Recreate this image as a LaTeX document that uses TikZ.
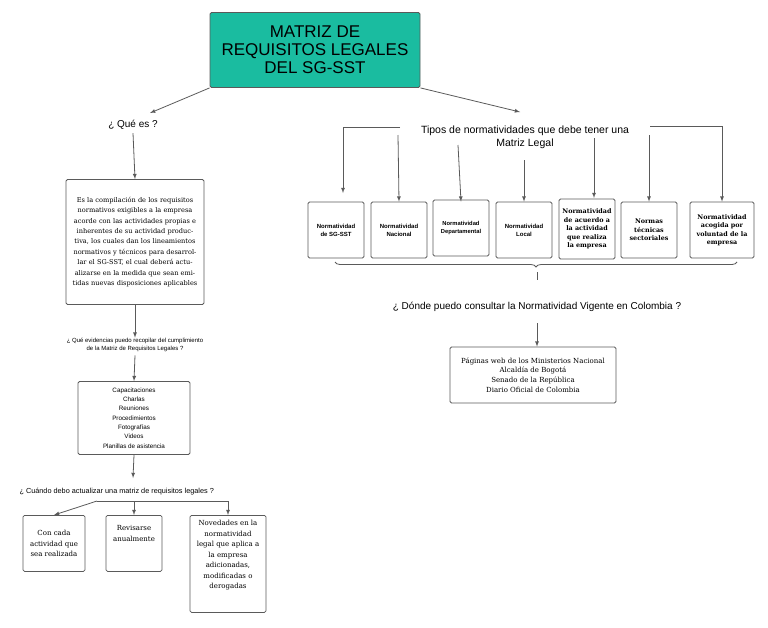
\documentclass[tikz,border=0pt]{standalone}
\usepackage{fontspec}
\setmainfont{Liberation Sans}
\newfontfamily\slab{DejaVu Serif}
\usetikzlibrary{positioning,decorations.pathreplacing}
\definecolor{titlefill}{RGB}{26,188,160}
\definecolor{edge}{RGB}{90,90,90}
\begin{document}
\begin{tikzpicture}[x=1pt,y=-1pt,
    box/.style={draw=edge, thick, rounded corners=1.5pt, align=center, inner sep=1pt},
    tipo/.style={box, minimum width=56pt, minimum height=56pt, font=\fontsize{6.5}{8}\selectfont\bfseries},
    link/.style={draw=edge, thick, -latex},
    ask/.style={align=center}]
            \useasboundingbox (0,0) rectangle (768,627);

            % title
            \node[box, fill=titlefill, minimum width=210pt, minimum height=75pt,
                font=\fontsize{17}{18}\selectfont] (title) at (315,50)
                {MATRIZ DE\\REQUISITOS LEGALES\\DEL SG-SST};

            % left column
            \node[ask, font=\fontsize{10}{12}\selectfont] (quees) at (133,125) {¿ Qué es ?};
            \node[box, text width=136pt, minimum height=125pt, font=\slab\fontsize{6.6}{10.4}\selectfont]
                (def) at (135,242) {Es la compilación de los requisitos normativos exigibles a la empresa acorde con las actividades propias e inherentes de su actividad productiva, los cuales dan los lineamientos normativos y técnicos para desarrollar el SG-SST, el cual deberá actualizarse en la medida que sean emitidas nuevas disposiciones aplicables};
            \node[ask, font=\fontsize{6}{8}\selectfont] (evid) at (135,345)
                {¿ Qué evidencias puedo recopilar del cumplimiento\\de la Matriz de Requisitos Legales ?};
            \node[box, minimum width=112pt, minimum height=73pt, font=\fontsize{6.3}{9.3}\selectfont]
                (lista) at (134,418) {Capacitaciones\\Charlas\\Reuniones\\Procedimientos\\Fotografías\\Videos\\Planillas de asistencia};
            \node[font=\fontsize{7.3}{9}\selectfont, anchor=west] (cuando) at (16,492)
                {¿ Cuándo debo actualizar una matriz de requisitos legales ?};
            \node[box, minimum width=62pt, minimum height=56pt, anchor=north, font=\slab\fontsize{7}{10.5}\selectfont]
                (cada) at (54,515) {Con cada\\actividad que\\sea realizada};
            \node[box, minimum width=56pt, minimum height=56pt, anchor=north, font=\slab\fontsize{7}{10.5}\selectfont]
                (anual) at (134,515) {\strut Revisarse\\anualmente\\[12pt]};
            \node[box, minimum width=76pt, minimum height=97pt, anchor=north, font=\slab\fontsize{7}{10.5}\selectfont]
                (noved) at (228,515) {Novedades en la\\normatividad\\legal que aplica a\\la empresa\\adicionadas,\\modificadas o\\derogadas\\[8pt]};

            \draw[link] (title.south west) -- (150,113);
            \draw[link] (quees.south) -- (def.north);
            \draw[link] (def.south) -- ([yshift=-3pt]evid.north);
            \draw[link] (evid.south) -- (lista.north);
            \draw[link] (lista.south) -- (133,478);
            \coordinate (split) at (97,501);
            \draw[draw=edge, thick] (split) -- (noved.north |- split);
            \draw[link] (split) -- (cada.north);
            \draw[link] (anual.north |- split) -- (anual.north);
            \draw[link] (noved.north |- split) -- (noved.north);

            % right part
            \node[ask, font=\fontsize{10.5}{13}\selectfont] (tipos) at (525,137)
                {Tipos de normatividades que debe tener una\\Matriz Legal};
            \draw[link] (title.south east) -- (520,112);
            \node[tipo, font=\fontsize{6}{8}\selectfont\bfseries] (sst) at (336,230) {Normatividad\\de SG-SST};
            \node[tipo, font=\fontsize{6}{8}\selectfont\bfseries] (nac) at (399,230) {Normatividad\\Nacional};
            \node[tipo, font=\fontsize{5.8}{8}\selectfont\bfseries] (dep) at (461,228) {Normatividad\\Departamental};
            \node[tipo, font=\fontsize{6}{8}\selectfont\bfseries] (loc) at (524,230) {Normatividad\\Local};
            \node[tipo, minimum height=60pt, font=\slab\fontsize{6.4}{8.5}\selectfont\bfseries] (activ) at (587,229)
                {Normatividad\\de acuerdo a\\la actividad\\que realiza\\la empresa};
            \node[tipo, font=\slab\fontsize{6.4}{8.5}\selectfont\bfseries] (tecn) at (649,230) {Normas\\técnicas\\sectoriales};
            \node[tipo, minimum width=64pt, font=\slab\fontsize{6.4}{8.5}\selectfont\bfseries] (volun) at (722,230)
                {Normatividad\\acogida por\\voluntad de la\\empresa};

            \coordinate (tl) at (400,127);
            \coordinate (tr) at (650,126);
            \draw[link] (tl) -- (343,127) -- (343,193);
            \draw[link] (tr) -- (722,126) -- (volun.north);
            \draw[link] (398,135) -- (nac.north);
            \draw[link] (458,145) -- ([yshift=-2pt]dep.north);
            \draw[link] (524,160) -- (loc.north);
            \draw[link] (594,138) -- (594,198);
            \draw[link] (649,135) -- (tecn.north);

            \draw[draw=edge, thick, decorate,
                decoration={brace, mirror, amplitude=5pt}] (335,262) -- (737,262);
            \node[ask, font=\fontsize{10}{12}\selectfont] (donde) at (537,307)
                {¿ Dónde puedo consultar la Normatividad Vigente en Colombia ?};
            \coordinate (bt) at (537,272);
            \draw[draw=edge, thick] (bt) -- (537,280);
            \node[box, minimum width=166pt, minimum height=56pt, font=\slab\fontsize{7}{9.8}\selectfont]
                (webs) at (533,375) {Páginas web de los Ministerios Nacional\\Alcaldía de Bogotá\\Senado de la República\\Diario Oficial de Colombia};
            \draw[link] (537,323) -- (webs.north -| 537,0);
\end{tikzpicture}
\end{document}
